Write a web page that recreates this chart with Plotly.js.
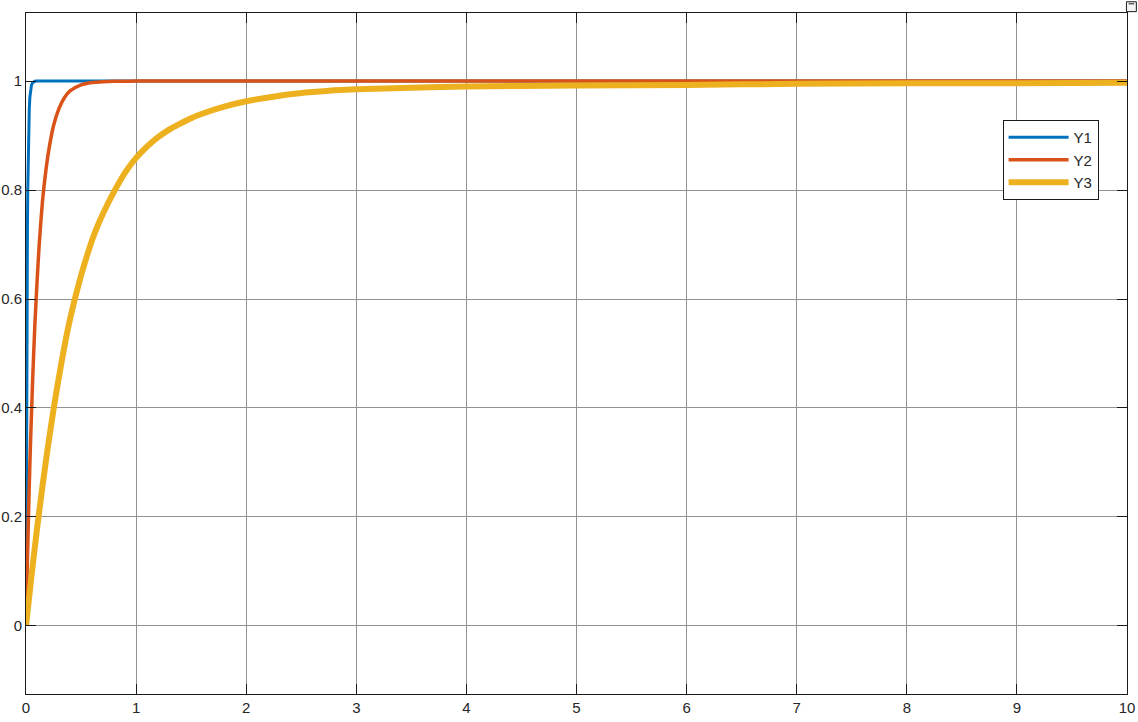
<!DOCTYPE html>
<html>
<head>
<meta charset="utf-8">
<script src="https://cdn.plot.ly/plotly-3.0.1.min.js"></script>
<style>html,body{margin:0;padding:0;background:#fff;}#chart{width:1138px;height:722px;}</style>
</head>
<body>
<div id="chart"></div>
<script>
// Series names
var seriesNames = ['Y1', 'Y2', 'Y3'];

// Y1 (fast response)
var t1 = [0, 0.002, 0.005, 0.008, 0.01, 0.013, 0.016, 0.02, 0.025, 0.03, 0.035, 0.04, 0.05, 0.06, 0.08, 0.1, 10];
var y1 = [0, 0.18, 0.39, 0.55, 0.63, 0.73, 0.80, 0.865, 0.92, 0.95, 0.97, 0.982, 0.993, 0.997, 0.9997, 1, 1];

// Y2 (medium response)
var t2 = [0, 0.01, 0.02, 0.03, 0.04, 0.05, 0.06, 0.08, 0.1, 0.12, 0.15, 0.18, 0.21, 0.25, 0.3, 0.35, 0.4, 0.5, 0.6, 0.7, 0.8, 1, 10];
var y2 = [0, 0.095, 0.18, 0.26, 0.33, 0.39, 0.45, 0.55, 0.63, 0.70, 0.78, 0.835, 0.877, 0.918, 0.95, 0.97, 0.982, 0.993, 0.9975, 0.999, 0.9997, 1, 1];

// Y3 (slow response)
var t3 = [0, 0.05, 0.1, 0.15, 0.2, 0.25, 0.3, 0.35, 0.4, 0.45, 0.5, 0.55, 0.6, 0.65, 0.7, 0.8, 0.9, 1.0, 1.1, 1.2, 1.3, 1.4, 1.5, 1.6, 1.8, 2.0, 2.2, 2.4, 2.6, 2.8, 3.0, 3.5, 4, 5, 6, 7, 8, 9, 10];
var y3 = [0, 0.092, 0.178, 0.257, 0.33, 0.397, 0.458, 0.514, 0.563, 0.605, 0.643, 0.677, 0.708, 0.734, 0.757, 0.797, 0.832, 0.859, 0.880, 0.897, 0.911, 0.922, 0.932, 0.940, 0.953, 0.963, 0.970, 0.976, 0.980, 0.983, 0.985, 0.988, 0.990, 0.992, 0.993, 0.995, 0.996, 0.996, 0.997];

// Axis ticks
var xTicks = [0, 1, 2, 3, 4, 5, 6, 7, 8, 9, 10];
var yTicks = [0, 0.2, 0.4, 0.6, 0.8, 1];
var yTickLabels = ['0', '0.2', '0.4', '0.6', '0.8', '1'];

var colors = ['#0072BD', '#D95319', '#EDB120'];
var widths = [3, 3.5, 6];
var shapesLine = ['linear', 'spline', 'spline'];
var xs = [t1, t2, t3];
var ys = [y1, y2, y3];

var traces = seriesNames.map(function (name, i) {
  return {
    x: xs[i], y: ys[i], name: name, type: 'scatter', mode: 'lines',
    line: {color: colors[i], width: widths[i], shape: shapesLine[i], smoothing: 0.6}
  };
});

var axisCommon = {
  showline: true, linecolor: '#1a1a1a', linewidth: 1, mirror: 'ticks',
  ticks: 'inside', ticklen: 10, tickwidth: 1, tickcolor: '#1a1a1a',
  showgrid: true, gridcolor: '#929292', gridwidth: 1,
  zeroline: false, fixedrange: true,
  tickfont: {family: 'Liberation Sans, Arial, sans-serif', size: 15, color: '#262626'}
};

var layout = {
  width: 1138, height: 722,
  margin: {l: 26, r: 11, t: 13, b: 28, pad: 0},
  paper_bgcolor: '#ffffff', plot_bgcolor: '#ffffff',
  showlegend: true,
  legend: {
    x: 0.887, y: 0.843, xanchor: 'left', yanchor: 'top',
    bgcolor: '#ffffff', bordercolor: '#1a1a1a', borderwidth: 1,
    itemwidth: 60,
    font: {family: 'Liberation Sans, Arial, sans-serif', size: 15, color: '#262626'},
    tracegroupgap: 0
  },
  xaxis: Object.assign({}, axisCommon, {range: [0, 10], tickvals: xTicks, ticktext: xTicks.map(String)}),
  yaxis: Object.assign({}, axisCommon, {range: [-0.125, 1.125], tickvals: yTicks, ticktext: yTickLabels}),
  shapes: [
    {type: 'rect', xref: 'paper', yref: 'paper', x0: 0.9995, x1: 1.0085, y0: 1.002, y1: 1.0165,
     line: {color: '#1a1a1a', width: 1}, fillcolor: '#f4f4f4'},
    {type: 'line', xref: 'paper', yref: 'paper', x0: 1.0015, x1: 1.0065, y0: 1.0135, y1: 1.0135,
     line: {color: '#1a1a1a', width: 1}}
  ]
};

Plotly.newPlot('chart', traces, layout, {displayModeBar: false, staticPlot: true});
</script>
</body>
</html>
